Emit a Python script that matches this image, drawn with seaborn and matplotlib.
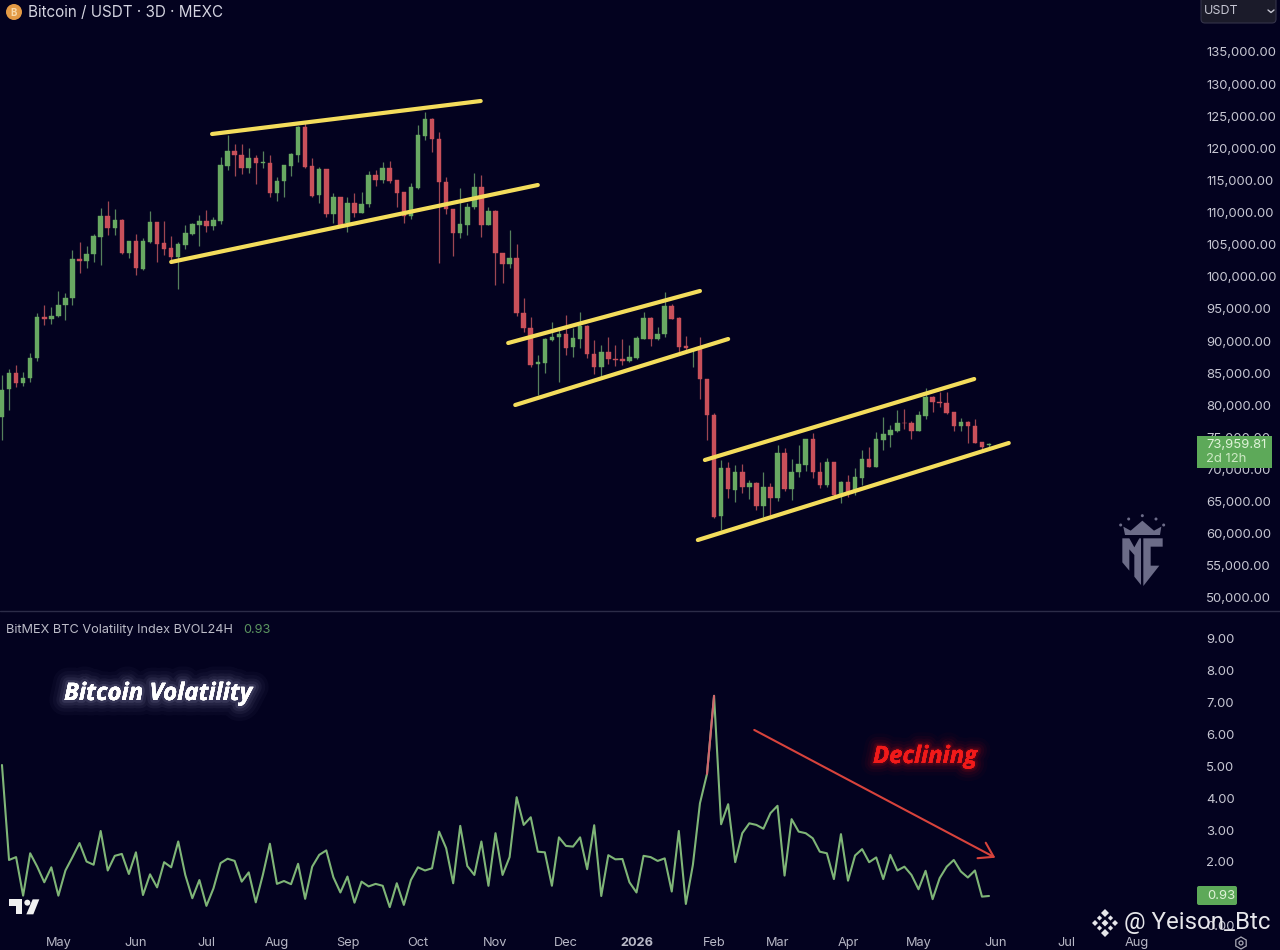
import numpy as np
import pandas as pd
import seaborn as sns
import matplotlib.pyplot as plt
import matplotlib.patheffects as pe
from matplotlib.patches import Polygon, Circle, FancyBboxPatch, Rectangle

# 3D candles
opens = [78180,82480,85080,83420,84200,87310,93800,93480,93900,95610,
         96650,102820,102510,103500,106250,109520,107550,108840,103650,105630,
         101160,105470,108480,105210,104430,103030,104950,106660,108070,108690,
         107960,108690,117250,119640,118960,116990,118550,117660,117770,112990,
         114860,117250,119010,123270,117250,112740,116780,109780,112370,108320,
         111540,109980,111330,115850,115070,116890,115070,113150,109470,113770,
         121920,124510,121500,114810,110560,106870,108070,110820,113930,108070,
         110300,103650,101990,102930,94310,91980,86430,86630,90160,90580,
         91100,89120,90320,92340,87980,85910,88240,87260,87150,86940,
         87360,90320,93590,90270,91040,95460,93590,89230,88550,89120,
         84040,78490,62760,70190,66810,69560,67330,67850,64320,67230,
         65510,72520,66920,69670,70700,74700,69670,67590,71120,66190,
         68110,66710,68630,71690,70440,74600,75370,76000,77290,77190,
         76050,78330,81240,80510,80300,78950,76770,77450,76830,74230,
         73770]
highs = [84700,85600,86270,85230,88190,94420,95610,95350,97790,97430,
         104170,105470,104800,106660,110660,111850,110500,108950,105630,106660,
         105990,110300,108580,108740,106400,105470,108070,108320,109620,110400,
         109360,118700,122080,120670,120670,120000,118960,119640,118960,115490,
         117350,119220,123480,124150,118440,117150,116780,113100,112480,112480,
         113100,113250,116520,116630,117920,118030,115070,113150,114550,123630,
         125710,124670,122590,115590,110560,113770,111440,116110,115850,110920,
         110400,103760,107290,105110,96650,93690,87830,90420,93020,92240,
         94050,91980,94470,92500,90160,89380,90580,89380,90270,89380,
         90780,94470,93690,92240,97690,95770,93690,90780,88860,90580,
         84140,78850,71480,71220,70700,70810,68370,68110,69670,67950,
         73820,73300,71590,73820,74700,75740,71220,71740,71220,68260,
         69150,70190,73040,73560,75790,78230,76930,79270,79370,77610,
         79160,82640,81450,82120,82020,79010,77970,77610,77860,74340,
         74070]
lows = [74600,79270,82900,83000,83680,86950,92500,92650,93690,93280,
        95610,100540,101320,102360,101840,106510,106510,103550,102880,100280,
        101060,105310,102360,103390,102620,98100,104280,106510,104800,107030,
        107290,108220,116630,115690,116000,116110,114450,116890,112480,111850,
        112480,115690,117920,116890,112480,111440,109260,108320,107810,107030,
        109260,109880,110820,114140,114660,114660,110820,108320,108950,113720,
        121300,119480,102200,109780,103240,105990,106510,110500,106250,108070,
        98720,99090,101320,93900,91460,85910,81600,85080,90060,83680,
        87830,87460,88860,87310,84870,84450,86430,86120,86270,86790,
        87260,90270,89230,90160,90680,93380,88350,88500,85910,80930,
        74600,62400,60590,65520,65000,66400,65360,63700,62660,62920,
        65150,66710,65260,68780,69770,68630,67070,67330,65510,64840,
        65770,66030,67590,70340,70340,73040,73560,75890,76260,74700,
        76000,77810,79010,79680,78640,75940,76050,74180,74080,73040,
        73450]
closes = [82380,85080,83420,84250,87410,93800,93480,93950,95610,96650,
          102770,102510,103600,106350,109520,107550,108840,103650,105630,101320,
          105520,108480,105110,104280,103030,105110,106770,108170,108690,107910,
          108790,117350,119640,118910,116990,118550,117660,117820,112990,114970,
          117350,119070,123270,117150,112580,116780,109780,112370,108070,111540,
          109980,111330,115850,115070,116890,114970,113100,109470,113930,122020,
          124510,121400,114760,110500,106870,108170,110920,113930,108070,110300,
          103650,101990,102880,94310,91980,86270,86690,90270,90580,91040,
          88970,90420,92340,87930,85910,88240,87150,87050,86940,87460,
          90530,93590,90320,91100,95460,93480,89120,88920,88710,84040,
          78490,62660,70190,66920,69560,67330,67850,64320,67230,65510,
          72520,66920,69670,70810,74700,69670,67590,71120,66030,68110,
          66550,68780,71690,70440,74700,75530,76150,77290,77190,76050,
          78440,81240,80460,80300,78850,76770,77450,76830,74180,73560,
          73960]

# BVOL24H, one value per candle
vol = [5.04,2.06,2.15,0.94,2.27,1.85,1.36,1.83,0.94,1.73,
       2.15,2.59,2.01,1.91,2.97,1.73,2.19,2.25,1.62,2.30,
       0.96,1.61,1.20,1.99,1.83,2.64,1.59,0.86,1.43,0.62,
       1.17,1.96,2.10,2.03,1.38,1.67,0.73,1.59,2.57,1.31,
       1.40,1.30,1.94,0.84,1.85,2.22,2.36,1.52,1.04,1.54,
       0.72,1.38,1.23,1.31,1.25,0.58,1.33,0.65,1.43,1.83,
       1.73,1.80,2.95,2.43,1.33,3.13,1.87,1.59,2.64,1.25,
       2.90,1.59,2.15,4.03,3.16,3.40,2.32,2.30,1.25,2.77,
       2.50,2.48,2.77,1.77,3.15,0.93,2.21,2.08,2.09,1.36,
       1.04,2.19,2.15,2.03,2.11,1.07,2.97,0.68,1.91,3.84,
       4.76,7.21,3.18,3.81,1.99,2.90,3.21,3.16,3.04,3.53,
       3.76,1.57,3.34,2.95,2.90,2.74,2.32,2.27,1.46,2.87,
       1.41,2.20,2.40,1.99,2.14,1.46,2.22,1.73,1.85,1.59,
       1.14,1.72,0.83,1.49,1.85,2.06,1.70,1.51,1.73,0.91,
       0.93]

month_ticks = [8,19,29,39,49,59,70,80,90,101,110,120,130,141,151,161]
month_labels = ['May','Jun','Jul','Aug','Sep','Oct','Nov','Dec','2026','Feb','Mar','Apr','May','Jun','Jul','Aug']
price_ticks = list(range(50000, 135001, 5000))
vol_ticks = list(range(0, 10))

# channel lines drawn on the chart: (bar, price, bar, price)
channels = [(29.8,122230,67.9,127368),(24.0,102305,76.0,114291),
            (71.8,89695,99.0,97795),(72.8,80043,103.0,90318),
            (99.7,71482,137.9,84091),(98.7,59028,142.8,74129)]

BG = '#03021f'
GREEN = '#68a862'
RED = '#c9505a'
TXT = '#c6c6d2'
YELLOW = '#f4dd5c'

sns.set_theme(style='dark', rc={'axes.facecolor': BG, 'figure.facecolor': BG,
                                'axes.grid': False, 'xtick.bottom': False, 'ytick.left': False})
plt.rcParams['font.family'] = ['Inter', 'DejaVu Sans']

df = pd.DataFrame({'bar': np.arange(len(opens)), 'open': opens, 'high': highs,
                   'low': lows, 'close': closes, 'vol': vol})
df['color'] = np.where(df['close'] >= df['open'], GREEN, RED)
df['wick'] = np.where(df['close'] >= df['open'], '#55805c', '#9c4652')

W, H = 1280, 950
fig = plt.figure(figsize=(12.8, 9.5), dpi=100)
ax = fig.add_axes([0, 1 - 611 / H, 1197 / W, 611 / H])
ax2 = fig.add_axes([0, 1 - 932 / H, 1197 / W, (932 - 612) / H])

# candles
ax.vlines(df['bar'], df['low'], df['high'], colors=df['wick'], lw=0.9, zorder=2)
ax.bar(df['bar'], df['close'] - df['open'], bottom=df['open'], width=0.64,
       color=df['color'], edgecolor=df['color'], linewidth=0.3, zorder=3)
for x0, y0, x1, y1 in channels:
    ax.plot([x0, x1], [y0, y1], color=YELLOW, lw=3, solid_capstyle='round', zorder=4)

ax.set_xlim(-0.28, 169.5)
ax.set_ylim(47976, 143090)
ax.set_xticks([])
ax.yaxis.tick_right()
ax.set_yticks(price_ticks)
ax.set_yticklabels([f'{p:,.2f}' for p in price_ticks])
ax.tick_params(axis='y', length=0, pad=6.5, labelsize=9.45, labelcolor=TXT)

# volatility pane
sns.lineplot(data=df, x='bar', y='vol', ax=ax2, color='#7fb577', lw=1.5, errorbar=None)
sns.lineplot(data=df.iloc[100:102], x='bar', y='vol', ax=ax2, color='#d0646c', lw=1.5, errorbar=None)
ax2.annotate('', xy=(140.9, 2.13), xytext=(106.7, 6.14),
             arrowprops=dict(arrowstyle='->,head_length=0.7,head_width=0.45', color='#d8433c',
                             lw=1.5, mutation_scale=14, shrinkA=0, shrinkB=0))
ax2.set_xlim(-0.28, 169.5)
ax2.set_ylim(-0.2, 9.84)
ax2.set_xlabel('')
ax2.set_ylabel('')
ax2.yaxis.tick_right()
ax2.set_yticks(vol_ticks)
ax2.set_yticklabels([f'{v:.2f}' for v in vol_ticks])
ax2.tick_params(axis='y', length=0, pad=6.5, labelsize=9.45, labelcolor=TXT)
ax2.set_xticks(month_ticks)
ax2.set_xticklabels(month_labels)
ax2.tick_params(axis='x', length=0, pad=3.5, labelsize=9.2, labelcolor='#b8b8c6')
ax2.get_xticklabels()[8].set_fontweight('bold')

for a in (ax, ax2):
    sns.despine(ax=a, left=True, bottom=True, right=True, top=True)
    a.patch.set_alpha(1)

# overlay in pixels for the labels and logos
ov = fig.add_axes([0, 0, 1, 1], zorder=10)
ov.set_xlim(0, W)
ov.set_ylim(H, 0)
ov.axis('off')
ov.patch.set_alpha(0)

ov.plot([0, W], [611, 611], color='#2c2c48', lw=1)

# header
ov.add_patch(Circle((14, 12), 8, fc='#e39a45', ec='none'))
ov.text(14, 12.5, 'B', color='#f7d8a8', fontsize=7, weight='bold', ha='center', va='center')
ov.text(28, 12.5, 'Bitcoin / USDT · 3D · MEXC', color='#d4d4e0', fontsize=10.95, va='center')
ov.add_patch(FancyBboxPatch((1201, -4), 75, 27, boxstyle='round,pad=0,rounding_size=4',
                            fc='#1b1b2a', ec='#34344a', lw=0.8))
ov.text(1204, 11.5, 'USDT', color='#c6c6d2', fontsize=9, va='center')
ov.plot([1268, 1271, 1274], [10, 12.5, 10], color='#c6c6d2', lw=1)

# price tag
ov.add_patch(Rectangle((1197, 436), 75, 32, fc='#5da959', ec='none'))
ov.text(1206, 445, '73,959.81', color='#dff3d8', fontsize=9.45, va='center')
ov.text(1206, 458.5, '2d 12h', color='#cdeac4', fontsize=9.45, va='center')
ov.add_patch(FancyBboxPatch((1197, 886), 40, 19, boxstyle='round,pad=0,rounding_size=2',
                            fc='#5da959', ec='none'))
ov.text(1207, 896, '0.93', color='#dff3d8', fontsize=9.45, va='center')

# pane title
ov.text(6, 630, 'BitMEX BTC Volatility Index BVOL24H', color='#bcbcc8', fontsize=9.15, va='center')
ov.text(243, 630, '0.93', color='#5c9560', fontsize=9.15, va='center')

# glow labels
def glow(color, steps):
    return [pe.withStroke(linewidth=w, foreground=color, alpha=a) for w, a in steps]

ov.text(64, 694, 'Bitcoin Volatility', color='white', fontsize=17.3, family='Open Sans',
        weight='bold', style='italic', va='center',
        path_effects=glow('#b9b9e0', [(22, 0.03), (17, 0.04), (12, 0.06), (8, 0.08), (4, 0.12)]) + [pe.Normal()])
ov.text(873, 757, 'Declining', color='#f01a1a', fontsize=17.2, family='Open Sans',
        weight='bold', style='italic', va='center',
        path_effects=glow('#d01010', [(18, 0.03), (13, 0.05), (9, 0.07), (5, 0.12), (2.5, 0.16)]) + [pe.Normal()])

# tradingview mark
def zoom5(pts):
    return [(x / 3, 750 + y / 3) for x, y in pts]
ov.add_patch(Polygon(zoom5([(28, 448), (65, 448), (65, 493), (47, 493), (47, 467), (28, 467)]), fc='#f0f0f0', ec='none'))
ov.add_patch(Circle((82 / 3, 750 + 458 / 3), 3, fc='#f0f0f0', ec='none'))
ov.add_patch(Polygon(zoom5([(98, 448), (118, 448), (100, 493), (79, 493)]), fc='#f0f0f0', ec='none'))

# MC watermark
def zoom8(pts):
    return [(1080 + x / 3, 400 + y / 3) for x, y in pts]
LOGO = '#6c6c88'
ov.add_patch(Polygon(zoom8([(135, 405), (240, 405), (244, 380), (222, 392), (187, 362), (152, 392), (130, 380)]), fc=LOGO, ec='none'))
ov.add_patch(Polygon(zoom8([(127, 415), (148, 415), (163, 442), (178, 415), (183, 415), (183, 555), (163, 530),
                            (163, 465), (148, 448), (148, 512), (127, 487)]), fc=LOGO, ec='none'))
ov.add_patch(Polygon(zoom8([(190, 415), (248, 415), (248, 440), (212, 440), (212, 497), (238, 497), (190, 558)]), fc=LOGO, ec='none'))
for cx, cy in [(122, 375), (146, 357), (187, 347), (228, 357), (251, 375)]:
    c = zoom8([(cx, cy)])[0]
    ov.add_patch(Circle(c, 1.5, fc=LOGO, ec='none'))

# binance watermark
WM = '#e6e6ea'
for dx, dy, r in [(0, -10, 4), (0, 10, 4), (-10, 0, 3), (10, 0, 3), (-5.5, -5, 2.6), (5.5, -5, 2.6), (0, 0, 3.5), (-5.5, 5, 2.6), (5.5, 5, 2.6)]:
    cx, cy = 1105 + dx, 923 + dy
    ov.add_patch(Polygon([(cx, cy - r), (cx + r, cy), (cx, cy + r), (cx - r, cy)], fc=WM, ec='none'))
ov.text(1124, 923, '@ Yeison_Btc', color=WM, fontsize=17.3, family='Roboto', va='center')

# settings cog under the scale
ang = np.deg2rad(np.arange(30, 390, 60))
ov.add_patch(Polygon(np.c_[1241 + 6 * np.cos(ang), 943 + 6 * np.sin(ang)], fc='none', ec='#a8a8b4', lw=0.9))
ov.add_patch(Circle((1241, 943), 2, fc='none', ec='#a8a8b4', lw=0.9))

fig.savefig('out.png', dpi=100, facecolor=BG)
